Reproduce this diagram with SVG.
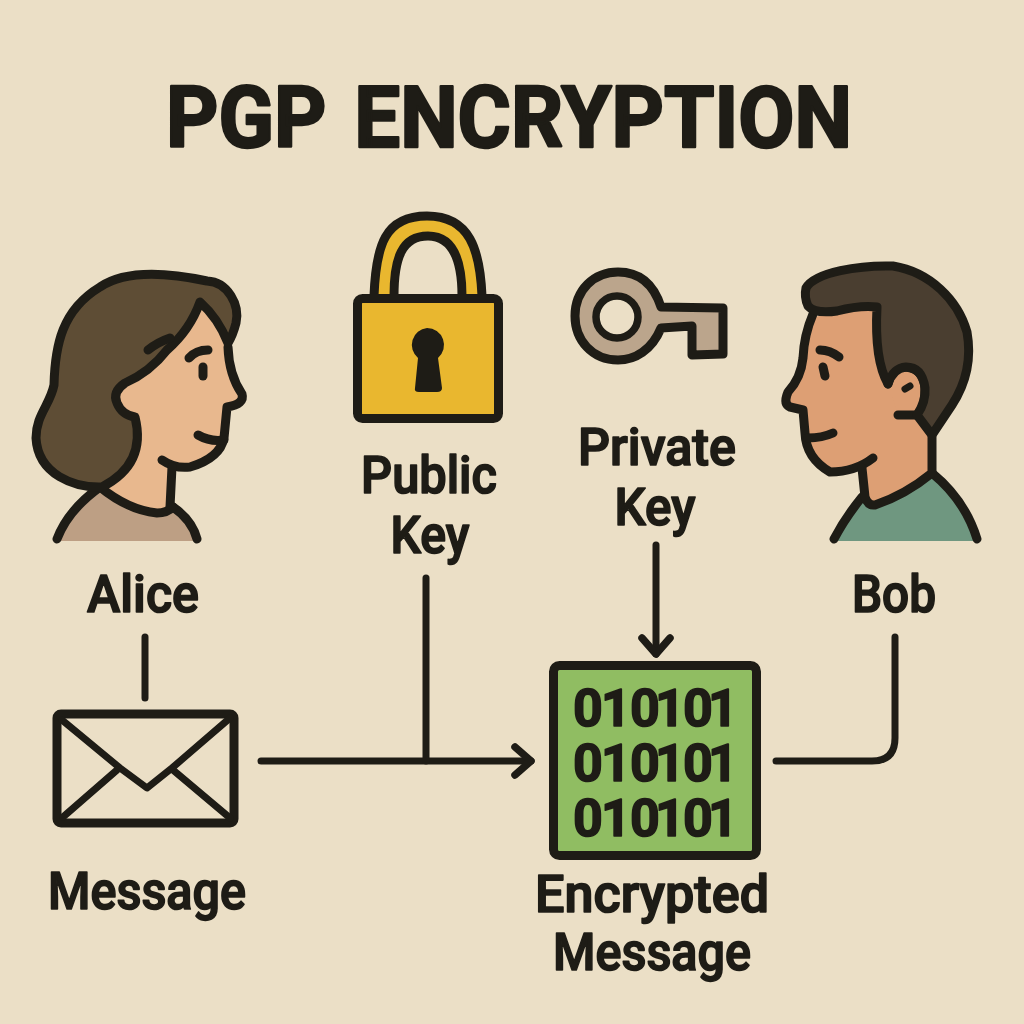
<svg xmlns="http://www.w3.org/2000/svg" width="1024" height="1024" viewBox="0 0 1024 1024">
  <defs>
    <marker id="arrow" markerUnits="userSpaceOnUse" markerWidth="36" markerHeight="36" refX="27" refY="18" orient="auto">
      <path d="M11 4 L27 18 L11 32" fill="none" stroke="#1e1c16" stroke-width="7.5" stroke-linecap="round" stroke-linejoin="round"/>
    </marker>
  </defs>
  <style>
    .ink { fill: none; stroke: #1e1c16; stroke-width: 9; stroke-linecap: round; stroke-linejoin: round; }
    .thin { stroke-width: 7; }
    .solid { fill: #1e1c16; }
    .label { font-family: Roboto, "Liberation Sans", sans-serif; font-weight: 500; font-size: 51px; fill: #1e1c16; stroke: #1e1c16; stroke-width: 1.6; stroke-linejoin: round; text-anchor: middle; }
    .title { font-family: Roboto, "Liberation Sans", sans-serif; font-weight: 700; font-size: 86px; fill: #1e1c16; stroke: #1e1c16; stroke-width: 2.5; stroke-linejoin: round; text-anchor: middle; word-spacing: 8px; }
    .bits { font-family: Roboto, "Liberation Sans", sans-serif; font-weight: 700; font-size: 52px; fill: #1e1c16; stroke: #1e1c16; stroke-width: 1.5; stroke-linejoin: round; text-anchor: middle; }
    .line { fill: none; stroke: #1e1c16; stroke-width: 7; stroke-linecap: round; stroke-linejoin: round; }
  </style>

  <rect id="paper" width="1024" height="1024" fill="#ebdfc6"/>

  <text id="title" class="title" x="509" y="147" textLength="686" lengthAdjust="spacingAndGlyphs">PGP ENCRYPTION</text>

  <g id="connectors">
    <path class="line" d="M145 637 V698"/>
    <path class="line" d="M261 761 H531" marker-end="url(#arrow)"/>
    <path class="line" d="M426 578 V761"/>
    <path class="line" d="M656 545 V654" marker-end="url(#arrow)"/>
    <path class="line" d="M776 761 H872 Q895 761 895 738 V637"/>
  </g>

  <g id="alice">
    <!-- sweater -->
    <path d="M57 541 Q68 510 100 487 Q128 510 157 513 L173 507 Q192 520 198 541 Z" fill="#bd9f84"/>
    <path class="ink" d="M57 539 Q68 510 100 487 M173 507 Q192 520 197 539"/>
    <!-- face and neck -->
    <path d="M200 302 Q222 325 228 347 Q230 375 243 398 L227 407 L223 440 Q217 458 190 468 L172 467 L170 507 L157 513 Q128 510 100 487 L137 450 L135 417 Q112 408 117 387 Q150 373 167 343 Z" fill="#e8b88e"/>
    <path class="ink" d="M228 347 Q229 375 242 394 Q245 404 227 407 L224 438 Q220 458 190 467 Q175 469 162 460"/>
    <path class="ink" d="M172 467 L170 507"/>
    <path class="ink" d="M100 487 Q128 510 157 513 Q167 513 173 507"/>
    <!-- hair -->
    <path class="ink" style="fill:#5e4d35" d="M102 487 C75 488 38 475 36 438 C36 415 50 405 54 385 C55 345 62 310 100 287 C125 270 165 272 207 281 C228 282 240 305 236 323 Q233 335 228 343 Q218 318 200 302 Q190 330 167 350 Q150 372 125 383 Q112 392 117 403 Q122 415 135 417 C142 445 135 470 102 487 Z"/>
    <path class="ink" d="M148 350 Q158 342 170 338"/>
    <path class="ink" d="M189 358 Q196 350 208 350"/>
    <path class="ink" d="M203 367 V376"/>
    <path class="ink" d="M198 435 Q210 442 224 440"/>
  </g>

  <g id="public-key">
    <path d="M374 296 C376 245 385 216 427 216 C470 216 480 250 482 296 H462 C462 258 452 236 428 236 C402 236 394 258 394 296 Z" fill="#e9b72f"/>
    <path class="ink" d="M374 296 C376 245 385 216 427 216 C470 216 480 250 482 296"/>
    <path class="ink" d="M394 296 C394 258 402 236 428 236 C452 236 462 258 462 296"/>
    <rect class="ink" x="357.500" y="298.500" width="141" height="120" rx="5" style="fill:#e9b72f"/>
    <path class="solid" d="M427 328 A17 17 0 0 1 438 358 L442 388 Q442 392 437 392 H419 Q414 392 415 388 L418 358 A17 17 0 0 1 427 328 Z"/>
  </g>

  <g id="private-key">
    <path class="ink" style="fill:#bba58c" d="M661 307 L723 308 L723 354 L692 355 L692 326 L661 328 C652 350 635 360 618 360 C592 360 575 340 575 316 C575 290 594 272 618 272 C640 272 654 285 661 307 Z"/>
    <circle class="ink" cx="617" cy="317" r="21" style="fill:#ebdfc6;stroke-width:7.5"/>
  </g>

  <g id="bob">
    <!-- shirt -->
    <path d="M833 541 Q845 518 862 497 L873 506 L932 473 Q965 500 977 541 Z" fill="#6f9780"/>
    <path class="ink" d="M834 539 Q845 518 862 497 M932 473 Q965 500 977 539"/>
    <!-- face and neck -->
    <path d="M813 317 L875 307 L888 382 L917 415 L932 437 V473 L873 506 L865 500 L862 468 L830 472 Q812 465 808 440 L803 410 L787 400 L800 373 Z" fill="#dd9f74"/>
    <path class="ink" d="M813 314 Q804 335 803 358 Q801 378 788 392 Q783 404 790 407 L803 410 L805 433 Q806 458 830 472 Q855 472 873 458"/>
    <path class="ink" d="M862 468 L865 497 Q868 506 875 505 Q905 495 932 473 V437"/>
    <!-- ear -->
    <path class="ink" style="fill:#dd9f74" d="M888 384 Q892 367 906 367 Q925 369 925 390 Q925 408 917 415 L898 415"/>
    <!-- hair -->
    <path class="ink" style="fill:#4a3e30" d="M806 288 C815 272 860 265 893 266 C930 272 958 300 967 332 C972 360 965 385 952 405 L932 435 L917 415 Q926 402 925 388 Q922 367 906 367 Q893 368 888 384 C880 370 875 345 877 307 Q860 305 837 311 Q815 314 808 306 Q804 297 806 288 Z"/>
    <path class="ink" d="M820 350 Q830 350 839 357"/>
    <path class="ink" d="M823 367 L825 376"/>
    <path class="ink" d="M808 438 Q822 438 833 433"/>
    <path class="ink" style="stroke-width:7" d="M905 389 L910 386"/>
  </g>

  <g id="message">
    <rect class="ink" x="57" y="714" width="177" height="109" rx="4"/>
    <path class="ink thin" d="M62 720 L120 768 L147 788 L172 768 L230 718"/>
    <path class="ink thin" d="M63 817 L117 770 M230 818 L173 770"/>
  </g>

  <g id="encrypted-message">
    <rect class="ink" x="553.500" y="665.500" width="203" height="190" rx="6" style="fill:#90bd62"/>
    <text class="bits" x="588 616 645 670 698 723" y="726">010101</text>
    <text class="bits" x="588 616 645 670 698 723" y="781">010101</text>
    <text class="bits" x="588 616 645 670 698 723" y="836">010101</text>
  </g>

  <g id="labels">
    <text class="label" x="143" y="612" textLength="112" lengthAdjust="spacingAndGlyphs">Alice</text>
    <text class="label" x="429" y="493" textLength="136" lengthAdjust="spacingAndGlyphs">Public</text>
    <text class="label" x="430" y="553" textLength="79" lengthAdjust="spacingAndGlyphs">Key</text>
    <text class="label" x="657" y="465" textLength="158" lengthAdjust="spacingAndGlyphs">Private</text>
    <text class="label" x="655" y="525" textLength="81" lengthAdjust="spacingAndGlyphs">Key</text>
    <text class="label" x="894" y="612" textLength="84" lengthAdjust="spacingAndGlyphs">Bob</text>
    <text class="label" x="147" y="909" textLength="198" lengthAdjust="spacingAndGlyphs">Message</text>
    <text class="label" x="652" y="912" textLength="234" lengthAdjust="spacingAndGlyphs">Encrypted</text>
    <text class="label" x="652" y="970" textLength="198" lengthAdjust="spacingAndGlyphs">Message</text>
  </g>
</svg>
